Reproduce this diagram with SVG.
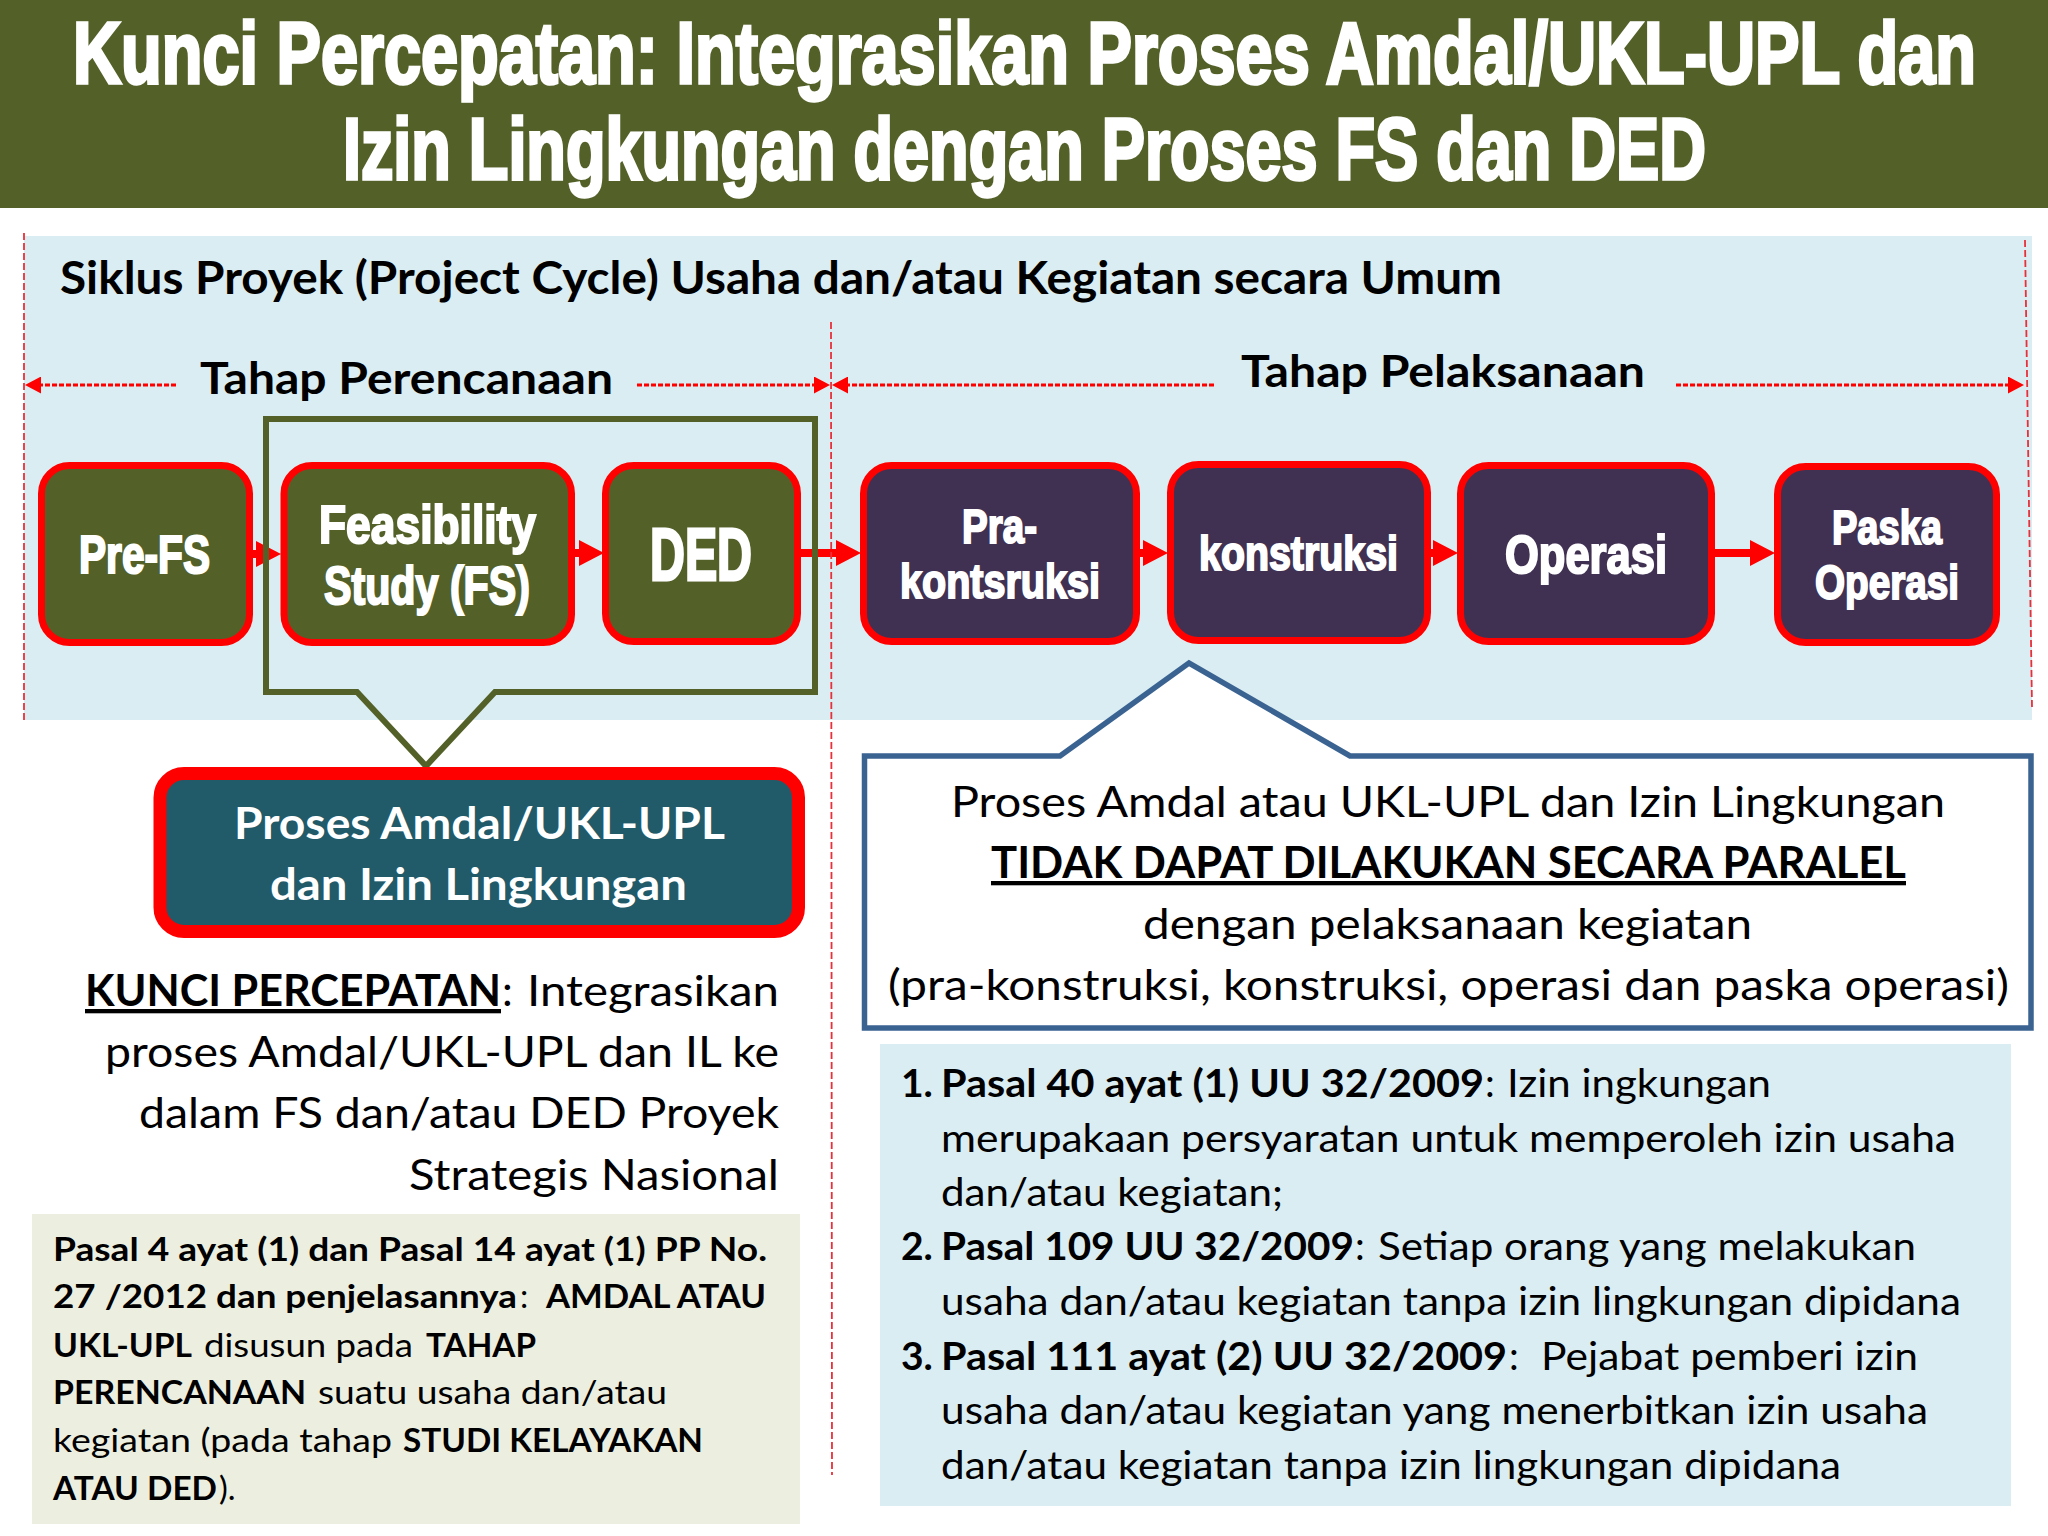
<svg xmlns="http://www.w3.org/2000/svg" width="2048" height="1536" viewBox="0 0 2048 1536">
<style>
text{font-family:"Lato","Noto Sans","Liberation Sans",sans-serif;fill:#000}
.t{font-size:43px}
.m{font-size:33px}
.l{font-size:39px}
.b{font-weight:700}
.w{fill:#fff}
.imp{font-family:"Liberation Sans Narrow","Liberation Sans",Arial,sans-serif;font-weight:700;fill:#fff;stroke:#fff}
.ttl{font-size:88px;stroke-width:3.5px}
.n54{font-size:54px;stroke-width:2.2px}
.n47{font-size:48px;stroke-width:2px}
.u{text-decoration:underline;text-decoration-thickness:3px;text-underline-offset:7px}
.node{stroke:#f00;stroke-width:7;}
.plan{fill:#536129}
.exec{fill:#403152}
.vd{fill:none;stroke:#e8303a;stroke-width:1.8;stroke-dasharray:7 3}
.hd{fill:none;stroke:#f00;stroke-width:3;stroke-dasharray:5 2;}
.ar{fill:none;stroke:#f00;stroke-width:8}
.pan{fill:#daedf2}
</style>
<defs>
<marker id="big" markerUnits="userSpaceOnUse" markerWidth="25" markerHeight="26" refX="0" refY="13" orient="auto"><path d="M0 0L25 13L0 26Z" fill="#f00"/></marker>
<marker id="small" markerUnits="userSpaceOnUse" markerWidth="16" markerHeight="17" refX="0" refY="8.5" orient="auto"><path d="M0 0L16 8.5L0 17Z" fill="#f00"/></marker>
</defs>
<rect width="2048" height="1536" fill="#fff"/>
<g id="header">
<rect width="2048" height="208" fill="#536129"/>
<text class="imp ttl" x="73" y="83" textLength="1903" lengthAdjust="spacingAndGlyphs">Kunci Percepatan: Integrasikan Proses Amdal/UKL-UPL dan</text>
<text class="imp ttl" x="343" y="179" textLength="1363" lengthAdjust="spacingAndGlyphs">Izin Lingkungan dengan Proses FS dan DED</text>
</g>
<rect id="cycle-panel" class="pan" x="24" y="236" width="2008" height="484"/>
<rect id="legal-panel-right" class="pan" x="880" y="1044" width="1131" height="462"/>
<rect id="legal-panel-left" x="32" y="1214" width="768" height="310" fill="#ecefe0"/>
<g id="connectors">
<path class="ar" d="M253 554H256" marker-end="url(#big)"/>
<path class="ar" d="M575 553H579" marker-end="url(#big)"/>
<path class="ar" d="M801 553H836" marker-end="url(#big)"/>
<path class="ar" d="M1140 553H1143" marker-end="url(#big)"/>
<path class="ar" d="M1431 553H1433" marker-end="url(#big)"/>
<path class="ar" d="M1715 553H1750" marker-end="url(#big)"/>
<path class="hd" d="M176 385H41" marker-end="url(#small)"/>
<path class="hd" d="M637 385H814" marker-end="url(#small)"/>
<path class="hd" d="M1214 385H848" marker-end="url(#small)"/>
<path class="hd" d="M1676 385H2008" marker-end="url(#small)"/>
</g>
<g id="phase-dividers">
<path class="vd" d="M24 233V720"/>
<path class="vd" d="M831 322L832 1475"/>
<path class="vd" d="M2025 240L2032 707"/>
</g>
<text class="b" style="font-size:45px" x="60" y="294" textLength="1442" lengthAdjust="spacingAndGlyphs">Siklus Proyek (Project Cycle) Usaha dan/atau Kegiatan secara Umum</text>
<text id="tahap-perencanaan" class="b t" x="200" y="394" textLength="413" lengthAdjust="spacingAndGlyphs">Tahap Perencanaan</text>
<text id="tahap-pelaksanaan" class="b t" x="1241" y="387" textLength="404" lengthAdjust="spacingAndGlyphs">Tahap Pelaksanaan</text>
<g id="pre-fs"><rect class="node plan" x="41.5" y="465.5" width="208" height="177" rx="28"/>
<text class="imp n54" x="79" y="573" textLength="131" lengthAdjust="spacingAndGlyphs">Pre-FS</text></g>
<g id="fs"><rect class="node plan" x="284" y="465.500" width="287.500" height="177" rx="28"/>
<text class="imp n54" x="319" y="543" textLength="217" lengthAdjust="spacingAndGlyphs">Feasibility</text>
<text class="imp n54" x="324" y="604" textLength="206" lengthAdjust="spacingAndGlyphs">Study (FS)</text></g>
<g id="ded"><rect class="node plan" x="605.5" y="465.5" width="192" height="176" rx="28"/>
<text class="imp" style="font-size:75px;stroke-width:3px" x="650" y="580" textLength="102" lengthAdjust="spacingAndGlyphs">DED</text></g>
<g id="pra-konstruksi"><rect class="node exec" x="863.5" y="465.5" width="273" height="176" rx="28"/>
<text class="imp n47" x="962" y="543" textLength="75" lengthAdjust="spacingAndGlyphs">Pra-</text>
<text class="imp n47" x="900" y="598" textLength="200" lengthAdjust="spacingAndGlyphs">kontsruksi</text></g>
<g id="konstruksi"><rect class="node exec" x="1170.5" y="464.5" width="257" height="176" rx="28"/>
<text class="imp n47" x="1199" y="570" textLength="199" lengthAdjust="spacingAndGlyphs">konstruksi</text></g>
<g id="operasi"><rect class="node exec" x="1460.5" y="465.5" width="251" height="176" rx="28"/>
<text class="imp n54" x="1505" y="573" textLength="162" lengthAdjust="spacingAndGlyphs">Operasi</text></g>
<g id="paska-operasi"><rect class="node exec" x="1777.5" y="466.5" width="219" height="176" rx="28"/>
<text class="imp n47" x="1832" y="544" textLength="110" lengthAdjust="spacingAndGlyphs">Paska</text>
<text class="imp n47" x="1815" y="599" textLength="144" lengthAdjust="spacingAndGlyphs">Operasi</text></g>
<g id="planning-callout"><path d="M266 419H815V692H495L426 766L357 692H266Z" fill="none" stroke="#536129" stroke-width="6" stroke-linejoin="miter"/></g>
<g id="amdal-box"><rect x="160" y="773.500" width="638.500" height="158" rx="24" fill="#215a69" stroke="#f00" stroke-width="13"/>
<text class="b w t" x="234" y="839" textLength="491" lengthAdjust="spacingAndGlyphs">Proses Amdal/UKL-UPL</text>
<text class="b w t" x="270" y="900" textLength="417" lengthAdjust="spacingAndGlyphs">dan Izin Lingkungan</text></g>
<g id="kunci-percepatan">
<text class="t"><tspan class="b u" x="85" y="1006" textLength="416" lengthAdjust="spacingAndGlyphs">KUNCI PERCEPATAN</tspan><tspan x="502" y="1006">:</tspan> <tspan x="527" y="1006" textLength="252" lengthAdjust="spacingAndGlyphs">Integrasikan</tspan></text>
<text class="t" x="105" y="1067" textLength="674" lengthAdjust="spacingAndGlyphs">proses Amdal/UKL-UPL dan IL ke</text>
<text class="t" x="139" y="1128" textLength="640" lengthAdjust="spacingAndGlyphs">dalam FS dan/atau DED Proyek</text>
<text class="t" x="409" y="1190" textLength="370" lengthAdjust="spacingAndGlyphs">Strategis Nasional</text>
</g>
<g id="legal-left" class="m">
<text class="m b" x="53" y="1261" textLength="714" lengthAdjust="spacingAndGlyphs">Pasal 4 ayat (1) dan Pasal 14 ayat (1) PP No.</text>
<text class="m"><tspan class="b" x="53" y="1308" textLength="464" lengthAdjust="spacingAndGlyphs">27 /2012 dan penjelasannya</tspan><tspan x="520" y="1308">:</tspan> <tspan class="b" x="546" y="1308" textLength="220" lengthAdjust="spacingAndGlyphs">AMDAL ATAU</tspan></text>
<text class="m"><tspan class="b" x="53" y="1357" textLength="139" lengthAdjust="spacingAndGlyphs">UKL-UPL</tspan> <tspan x="204" y="1357" textLength="209" lengthAdjust="spacingAndGlyphs">disusun pada</tspan> <tspan class="b" x="426" y="1357" textLength="110" lengthAdjust="spacingAndGlyphs">TAHAP</tspan></text>
<text class="m"><tspan class="b" x="53" y="1404" textLength="253" lengthAdjust="spacingAndGlyphs">PERENCANAAN</tspan> <tspan x="318" y="1404" textLength="349" lengthAdjust="spacingAndGlyphs">suatu usaha dan/atau</tspan></text>
<text class="m"><tspan x="53" y="1452" textLength="339" lengthAdjust="spacingAndGlyphs">kegiatan (pada tahap</tspan> <tspan class="b" x="403" y="1452" textLength="300" lengthAdjust="spacingAndGlyphs">STUDI KELAYAKAN</tspan></text>
<text class="m"><tspan class="b" x="53" y="1500" textLength="164" lengthAdjust="spacingAndGlyphs">ATAU DED</tspan><tspan x="219" y="1500">).</tspan></text>
</g>
<g id="parallel-callout"><path d="M864.500 756H1060L1189 663L1350 756H2031V1028H864.500Z" fill="#fff" stroke="#3b6391" stroke-width="5.500"/>
<text class="t" x="951" y="817" textLength="994" lengthAdjust="spacingAndGlyphs">Proses Amdal atau UKL-UPL dan Izin Lingkungan</text>
<text class="t b u" x="991" y="878" textLength="915" lengthAdjust="spacingAndGlyphs">TIDAK DAPAT DILAKUKAN SECARA PARALEL</text>
<text class="t" x="1143" y="939" textLength="609" lengthAdjust="spacingAndGlyphs">dengan pelaksanaan kegiatan</text>
<text class="t" x="888" y="1000" textLength="1121" lengthAdjust="spacingAndGlyphs">(pra-konstruksi, konstruksi, operasi dan paska operasi)</text>
</g>
<g id="legal-right">
<text class="l b" x="901" y="1097">1.</text>
<text class="l"><tspan class="b" x="941" y="1097" textLength="543" lengthAdjust="spacingAndGlyphs">Pasal 40 ayat (1) UU 32/2009</tspan><tspan x="1485" y="1097">:</tspan> <tspan x="1507" y="1097" textLength="264" lengthAdjust="spacingAndGlyphs">Izin ingkungan</tspan></text>
<text class="l" x="941" y="1152" textLength="1015" lengthAdjust="spacingAndGlyphs">merupakaan persyaratan untuk memperoleh izin usaha</text>
<text class="l" x="941" y="1206" textLength="342" lengthAdjust="spacingAndGlyphs">dan/atau kegiatan;</text>
<text class="l b" x="901" y="1260">2.</text>
<text class="l"><tspan class="b" x="941" y="1260" textLength="413" lengthAdjust="spacingAndGlyphs">Pasal 109 UU 32/2009</tspan><tspan x="1355" y="1260">:</tspan> <tspan x="1378" y="1260" textLength="538" lengthAdjust="spacingAndGlyphs">Setiap orang yang melakukan</tspan></text>
<text class="l" x="941" y="1315" textLength="1020" lengthAdjust="spacingAndGlyphs">usaha dan/atau kegiatan tanpa izin lingkungan dipidana</text>
<text class="l b" x="901" y="1370">3.</text>
<text class="l"><tspan class="b" x="941" y="1370" textLength="566" lengthAdjust="spacingAndGlyphs">Pasal 111 ayat (2) UU 32/2009</tspan><tspan x="1509" y="1370">:</tspan> <tspan x="1541" y="1370" textLength="377" lengthAdjust="spacingAndGlyphs">Pejabat pemberi izin</tspan></text>
<text class="l" x="941" y="1424" textLength="987" lengthAdjust="spacingAndGlyphs">usaha dan/atau kegiatan yang menerbitkan izin usaha</text>
<text class="l" x="941" y="1479" textLength="900" lengthAdjust="spacingAndGlyphs">dan/atau kegiatan tanpa izin lingkungan dipidana</text>
</g>
</svg>
